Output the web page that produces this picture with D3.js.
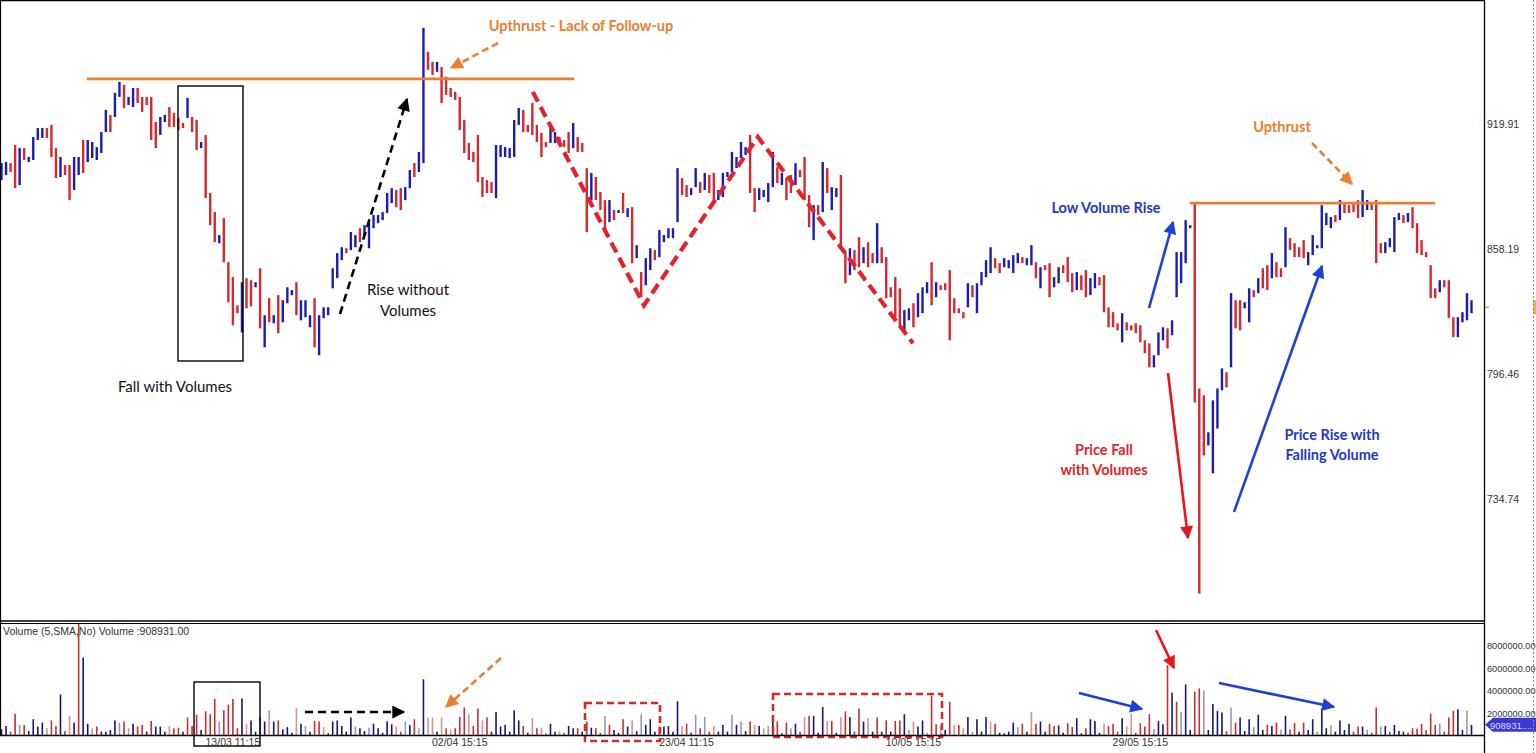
<!DOCTYPE html>
<html><head><meta charset="utf-8">
<script src="https://cdn.jsdelivr.net/npm/d3@7"></script>
<style>html,body{margin:0;padding:0;background:#fff;overflow:hidden}svg{display:block}</style>
</head><body>
<svg id="c" width="1536" height="753"></svg>
<script>
// ---------- DATA ----------
const highs = [900.6,901.1,900.6,909.5,908.0,908.0,903.6,913.5,917.9,917.9,
917.9,919.4,908.0,903.6,899.6,899.6,903.6,903.6,912.0,912.0,
911.0,908.5,915.9,926.9,924.4,935.3,940.7,939.2,933.3,937.7,
937.7,933.3,933.3,933.3,920.9,923.4,924.4,928.3,925.4,922.9,
920.4,932.8,923.4,921.9,911.0,914.5,885.8,876.4,865.0,873.4,
851.6,844.2,830.3,841.7,843.7,842.7,841.7,848.6,825.4,833.8,
825.4,835.3,832.8,839.2,837.8,841.7,832.8,832.8,825.4,833.8,
825.4,829.3,829.3,848.6,856.1,859.0,858.5,866.5,865.0,868.4,
869.9,870.9,874.9,874.9,876.4,885.8,888.2,887.3,888.2,888.7,
897.2,900.6,906.1,967.4,955.6,950.6,950.6,948.1,943.2,937.7,
935.8,933.3,921.9,910.5,906.1,914.5,893.7,892.2,891.2,909.5,
909.5,908.5,908.0,921.9,927.8,926.9,919.4,930.3,919.4,915.5,
911.0,918.4,915.9,913.5,912.0,915.9,920.4,913.5,910.5,898.1,
895.7,893.7,886.3,882.3,882.3,877.4,877.4,885.8,878.3,878.8,
860.0,846.7,853.6,858.5,857.6,867.5,865.0,868.4,868.4,898.1,
893.2,889.7,888.2,898.1,891.2,895.7,894.7,895.7,887.3,895.7,
896.2,906.1,903.6,911.0,908.5,914.5,888.2,888.2,887.3,890.7,
906.1,898.6,895.7,893.2,894.7,900.6,897.2,903.6,884.8,879.8,
879.8,901.1,898.1,888.7,888.2,894.7,856.6,858.5,857.6,864.0,
859.0,861.5,856.1,870.9,859.0,854.1,839.2,844.2,838.7,827.9,
828.8,831.3,836.3,839.2,841.7,851.6,841.7,840.2,841.2,847.7,
833.8,828.8,826.9,841.2,840.2,841.2,846.7,852.6,859.0,853.6,
851.1,853.6,852.6,855.1,856.1,854.1,853.6,860.0,851.6,849.1,
850.1,851.1,844.2,849.1,850.1,854.1,846.2,846.7,845.2,847.7,
843.7,846.2,844.2,845.2,829.3,826.9,821.4,826.4,821.9,820.4,
821.4,820.4,813.0,811.5,805.6,816.9,819.4,818.9,822.9,856.6,
856.6,872.4,869.9,880.8,789.2,785.8,767.5,783.3,789.2,799.1,
797.2,836.3,832.8,832.8,831.8,838.7,837.8,843.7,848.6,850.1,
856.1,851.6,848.6,868.9,863.5,861.0,859.0,862.5,856.6,865.0,
860.0,879.8,875.9,873.9,874.9,882.3,880.8,879.8,880.8,882.3,
887.3,882.3,880.8,882.3,861.0,861.5,863.5,873.9,875.9,874.9,
875.9,878.8,870.9,862.5,856.6,850.1,838.7,842.7,842.7,842.7,
824.4,824.4,826.9,836.3,832.8];
const lows = [892.2,894.7,896.2,888.2,889.7,902.1,901.1,902.1,912.0,913.0,
913.0,903.6,893.2,893.7,894.7,882.3,887.3,894.7,895.7,901.1,
903.1,902.1,905.6,915.9,915.9,923.4,933.3,927.8,929.3,928.3,
930.3,925.9,929.3,912.0,908.0,914.5,920.9,918.4,918.4,916.9,
917.9,922.9,915.9,907.1,908.0,883.3,869.9,861.5,861.0,851.6,
831.8,820.4,826.4,816.9,828.8,829.8,839.2,818.9,809.5,821.9,
821.4,816.5,821.9,831.3,835.3,825.4,822.9,824.4,819.4,809.5,
805.6,823.9,825.4,838.7,843.7,852.6,856.1,857.6,859.0,861.5,
865.0,858.5,868.4,870.9,872.4,875.9,880.8,878.8,877.4,882.3,
888.2,893.7,896.2,900.6,946.7,944.2,945.7,930.3,934.3,933.3,
931.8,916.9,905.6,902.1,901.1,891.2,883.8,885.8,885.8,883.3,
903.6,903.6,903.1,903.6,919.4,915.9,915.9,914.5,911.0,903.6,
908.5,910.5,910.5,909.5,908.5,905.6,908.0,906.1,906.1,866.5,
882.3,882.3,877.4,866.5,871.4,872.4,875.9,875.9,873.9,851.1,
853.6,834.3,840.2,847.7,852.6,854.1,861.5,863.5,863.5,871.4,
884.8,883.8,884.8,888.7,885.8,887.3,885.8,882.3,882.3,883.8,
893.7,896.2,898.1,903.1,904.6,885.8,876.4,882.3,883.8,881.3,
888.7,890.7,889.7,882.3,885.8,889.7,893.7,882.3,868.9,862.5,
874.9,876.4,885.8,877.4,883.8,859.0,841.2,845.2,847.7,849.1,
851.1,849.1,851.1,851.1,851.1,833.8,834.3,824.4,819.4,817.9,
822.9,819.4,824.4,826.4,836.3,830.3,834.3,837.8,837.8,813.0,
826.4,826.4,823.9,829.3,834.3,826.4,840.2,844.2,846.2,848.6,
846.2,849.1,848.6,846.2,851.1,851.1,850.1,850.1,843.7,838.7,
847.7,834.3,839.2,841.2,846.2,841.7,836.8,837.8,837.8,834.3,
835.3,838.7,840.2,826.9,819.4,819.4,817.9,812.0,817.9,817.9,
816.5,812.0,806.6,799.6,799.6,805.6,813.0,809.0,815.5,834.3,
841.2,851.1,868.4,782.3,687.8,756.1,761.0,747.2,769.4,788.3,
789.7,799.6,818.9,817.9,828.8,821.9,834.3,836.3,838.7,837.8,
843.7,844.2,844.2,849.1,857.6,854.1,854.1,853.6,850.1,855.1,
858.5,858.5,869.9,868.4,871.4,872.4,875.9,875.9,876.4,873.4,
873.9,877.4,877.4,851.1,856.1,856.1,859.0,856.6,872.4,870.9,
871.4,868.4,856.1,855.1,854.1,833.8,833.8,836.8,839.2,823.9,
814.5,814.5,821.9,822.9,826.4];
// b = up bar (blue), r = down bar (red)
const barDir = ("bbrrbrbbbb"+"rrrbrrbbrb"+"bbbbrbbrbb"+"rrrrrbbrrr"+"rbrrbrrrbr"+
"rrrbrrbrbr"+"brbbbrbbbr"+"bbbbbbrbbr"+"bbbbbbbrrb"+"brbbrrbrrr"+
"rrrrrrrrrb"+"bbbbbrrrrr"+"rbbrrrbrrr"+"brrrbrbrbr"+"brbbrbbbbb"+
"rrbbrbrrbb"+"bbbbbrrbbb"+"brbrrbrrrb"+"rbrbbrrbrr"+"brrbrrrrrb"+
"brbbbrbrrr"+"rrrbrbbbbr"+"rbbbbrbbrb"+"rrbbrrrbrr"+"bbrrrrrbrr"+
"rrrrbbbrbb"+"bbbrrrbbbb"+"rbrrbbrbrr"+"brrbrrrrbb"+"bbbbrbrrrr"+
"bbrrrbbbbr"+"brrrrrrbrr"+"rbbbb").split("");
// volume in millions
const volumes = [0.5,0.8,0.3,1.9,0.9,0.9,0.35,1.4,0.75,1.1,
0.6,1.3,0.8,3.6,0.35,1.7,1.1,10.0,6.9,1.0,
0.6,0.75,0.3,0.3,0.45,1.3,1.1,1.2,0.6,1.0,
0.75,0.9,0.3,1.25,0.75,0.75,0.3,0.8,0.6,0.65,
0.3,1.55,0.8,1.8,0.45,2.1,1.85,3.2,1.2,2.2,
2.7,3.2,0.6,3.25,1.0,1.3,0.3,1.6,1.2,2.15,
1.2,1.3,0.5,0.7,0.2,2.4,1.0,0.8,0.3,1.25,
1.2,0.7,0.15,1.2,1.3,0.8,0.3,1.55,0.75,0.6,
0.35,0.65,1.0,0.6,0.2,1.2,0.95,0.75,0.3,1.2,
0.9,1.4,0.65,4.95,1.55,1.55,0.3,1.55,0.6,0.5,
0.6,1.6,2.45,1.85,0.8,2.35,1.3,1.55,0.3,2.05,
0.75,0.9,0.3,2.2,1.3,0.8,0.2,1.5,0.6,0.65,
0.15,1.0,0.3,0.35,0.2,0.8,0.6,0.6,0.3,1.2,
0.65,0.6,0.2,1.7,0.9,0.45,0.2,1.4,0.75,1.3,
0.35,1.85,0.9,1.4,0.3,0.75,0.75,0.8,0.3,3.0,
0.8,1.0,0.2,1.8,0.6,1.6,0.3,0.8,0.3,0.9,
0.3,1.8,0.9,1.2,0.35,1.2,0.9,0.8,0.6,0.8,
1.4,1.2,0.15,1.1,0.6,1.0,0.3,1.6,1.7,1.7,
0.2,2.5,1.25,1.25,0.2,1.6,2.1,1.6,0.3,2.35,
1.2,1.5,0.3,1.55,0.3,1.3,0.3,1.25,1.3,1.85,
0.45,1.2,0.75,1.3,0.2,3.5,0.95,0.8,0.45,2.95,
0.9,0.9,0.6,1.6,0.3,1.4,0.3,1.6,1.2,1.0,
0.2,0.15,0.3,1.1,0.7,1.0,0.3,2.05,1.0,1.2,
0.3,1.0,0.8,0.85,0.2,1.05,0.7,1.5,0.15,0.6,
1.4,1.25,0.2,1.05,0.8,1.0,0.3,1.5,0.75,1.9,
0.2,1.05,0.75,1.85,0.55,1.25,0.95,6.2,3.75,2.95,
2.05,4.5,0.45,3.85,4.15,3.95,0.45,2.75,2.15,2.0,
0.35,2.45,1.1,1.55,0.35,1.4,0.7,1.8,0.45,0.9,
0.8,1.1,0.5,1.7,0.5,1.05,0.3,1.1,0.45,1.4,
0.3,2.35,0.6,0.9,0.3,1.3,0.45,1.0,0.3,0.75,
0.75,0.45,0.2,2.45,0.75,0.8,0.3,0.9,0.35,0.3,
0.2,0.6,0.55,1.0,0.45,1.9,0.9,1.0,0.3,1.55,
2.15,2.3,0.45,2.15,0.9];
// b blue, r red, p light red, g light blue-grey
const volColor = ("bbrrgrbbbb"+"prrbrpbrbb"+"prbbbbgrpb"+"rrbrbbbprr"+"brrrbrrrgr"+
"rrrbpbbrbp"+"brbbbpbgbr"+"rpbbbbbbgb"+"bgbbbbbprg"+"brpbppbprp"+
"rrrprrprbb"+"bbbbbrbprp"+"rbbprbbrbr"+"brrgrbbrbp"+"bgbbbrbbbb"+
"prbgrgrpbb"+"bgbgbrpbpg"+"brbrgbrprb"+"bbprbprbrr"+"bpbrbrbrrb"+
"gpbbgrrpbr"+"prpbgbbbpr"+"bbbbgrbprb"+"brrbbrrbbr"+"bbbprrrbpp"+
"rrrrgbbrbr"+"gbbrrgbbbb"+"rgrbbbgbbr"+"brgbrrbrbb"+"gbbgbbbbrr"+
"bgrrgbrbbb"+"rrrrrrrgrr"+"rbbgb").split("");
const priceTicks = [919.91, 858.19, 796.46, 734.74];
const volTicks = [8000000, 6000000, 4000000, 2000000];
const dateLabels = ["13/03 11:15","02/04 15:15","23/04 11:15","10/05 15:15","29/05 15:15"];
const dateBars = [51, 101, 151, 201, 251];
const lastVolume = 908931.00;
const lastClose = 829.3;
// resistance levels [startBar, endBar, price]
const resistance = [[18.8, 126.2, 942.2],[261.9, 316.0, 880.8]];
// red dashed zig-zag (bar index, price)
const zigzag = [[117.1,935.8],[141.6,830.3],[166.7,913.5],[200.9,811.5]];

// ---------- LAYOUT ----------
const W = 1536, H = 753, axisX = 1484;
const svg = d3.select("#c");
const x = d3.scaleLinear().domain([0, highs.length - 1]).range([1.5, 1471.5]);
const y = d3.scaleLinear().domain([734.74, 919.91]).range([498.6, 124]);
const yv = d3.scaleLinear().domain([0, 8000000]).range([735, 645]);
const C = {r:"#d22a2e", b:"#1c1cb0"};
const VC = {r:"#c42f32", b:"#16166e", p:"#d29494", g:"#9696bc"};
const axisFont = "'Liberation Sans', Arial, sans-serif";
const annFont = "Lato, 'Open Sans', sans-serif";

svg.append("rect").attr("width",W).attr("height",H).attr("fill","#fff");

// markers
const defs = svg.append("defs");
function marker(id, color, w, h){
  defs.append("marker").attr("id",id).attr("markerUnits","userSpaceOnUse")
    .attr("markerWidth",w).attr("markerHeight",h).attr("viewBox","0 0 10 10")
    .attr("refX",9).attr("refY",5).attr("orient","auto")
    .append("path").attr("d","M0,0 L10,5 L0,10 z").attr("fill",color);
}
marker("mk","#000",15,13);
marker("mo","#ed7d31",15,13);
marker("mb","#1f3fd6",16,13);
marker("mr","#e8161c",16,13);

// clip for panels
defs.append("clipPath").attr("id","pc").append("rect").attr("x",0).attr("y",1).attr("width",axisX).attr("height",620);
defs.append("clipPath").attr("id","vc").append("rect").attr("x",0).attr("y",623).attr("width",axisX).attr("height",112);

// ---------- PRICE PANEL ----------
const pg = svg.append("g").attr("clip-path","url(#pc)");
pg.selectAll("rect.bar").data(highs).enter().append("rect")
  .attr("x",(d,i)=>x(i)-1.2).attr("width",2.4)
  .attr("y",(d)=>y(d)).attr("height",(d,i)=>Math.max(1.5, y(lows[i]) - y(d)))
  .attr("fill",(d,i)=>C[barDir[i]]);

// resistance lines
pg.selectAll("line.res").data(resistance).enter().append("line")
  .attr("x1",d=>x(d[0])).attr("x2",d=>x(d[1])).attr("y1",d=>y(d[2])).attr("y2",d=>y(d[2]))
  .attr("stroke","#ed7d31").attr("stroke-width",2.6);

// zigzag
pg.append("path").datum(zigzag)
  .attr("d",d3.line().x(d=>x(d[0])).y(d=>y(d[1])))
  .attr("fill","none").attr("stroke","#e8202a").attr("stroke-width",4.2)
  .attr("stroke-dasharray","11,6");

// annotations
pg.append("rect").attr("x",178).attr("y",86).attr("width",65).attr("height",275)
  .attr("fill","none").attr("stroke","#000").attr("stroke-width",1.4);

function arrow(g,x1,y1,x2,y2,color,mk,w,dash){
  const l = g.append("line").attr("x1",x1).attr("y1",y1).attr("x2",x2).attr("y2",y2)
    .attr("stroke",color).attr("stroke-width",w).attr("marker-end","url(#"+mk+")");
  if(dash) l.attr("stroke-dasharray",dash);
}
function txt(g,s,xx,yy,color,size,weight){
  g.append("text").attr("x",xx).attr("y",yy).attr("text-anchor","middle")
    .attr("font-family",annFont).attr("font-size",size).attr("font-weight",weight)
    .attr("fill",color).text(s);
}
arrow(pg,340,314,407,99,"#000","mk",2.6,"8,5");
arrow(pg,498,43,451,68,"#ed7d31","mo",2.6,"7,4");
arrow(pg,1149,308,1173,222,"#1f3fd6","mb",2.6,null);
arrow(pg,1168,373,1188,538,"#e8161c","mr",2.6,null);
arrow(pg,1312,143,1352,184,"#ed7d31","mo",2.6,"7,4");
arrow(pg,1234,512,1322,266,"#1f3fd6","mb",2.6,null);

txt(pg,"Fall with Volumes",175,392,"#111",15,"normal");
txt(pg,"Rise without",408,295,"#111",15,"normal");
txt(pg,"Volumes",408,316,"#111",15,"normal");
txt(pg,"Upthrust - Lack of Follow-up",581,31,"#ed7d31",14.5,"bold");
txt(pg,"Low Volume Rise",1106,213,"#2038c8",14.5,"bold");
txt(pg,"Price Fall",1104,455,"#e0262a",14.5,"bold");
txt(pg,"with Volumes",1104,475,"#e0262a",14.5,"bold");
txt(pg,"Upthrust",1282,132,"#ed7d31",14.5,"bold");
txt(pg,"Price Rise with",1332,440,"#2038c8",14.5,"bold");
txt(pg,"Falling Volume",1332,460,"#2038c8",14.5,"bold");

// price axis labels
svg.selectAll("text.pt").data(priceTicks).enter().append("text")
  .attr("x",axisX+3).attr("y",d=>y(d)+4).attr("font-family",axisFont).attr("font-size",10.5)
  .attr("fill","#333").text(d=>d.toFixed(2));
svg.append("line").attr("x1",axisX+1).attr("x2",axisX+5).attr("y1",y(lastClose)).attr("y2",y(lastClose))
  .attr("stroke","#f0a040").attr("stroke-width",1.5);
svg.append("rect").attr("x",W-3).attr("y",y(lastClose)-7).attr("width",3).attr("height",14).attr("fill","#f0b050");

// ---------- VOLUME PANEL ----------
const vg = svg.append("g").attr("clip-path","url(#vc)");
vg.selectAll("line.vol").data(volumes).enter().append("line")
  .attr("x1",(d,i)=>x(i)).attr("x2",(d,i)=>x(i))
  .attr("y1",yv(0)).attr("y2",d=>yv(d*1e6))
  .attr("stroke",(d,i)=>VC[volColor[i]]).attr("stroke-width",1.6);

const vg2 = svg.append("g");
vg2.append("rect").attr("x",194).attr("y",682).attr("width",66).attr("height",64)
  .attr("fill","none").attr("stroke","#000").attr("stroke-width",1.4);
vg2.append("rect").attr("x",585).attr("y",703).attr("width",75).attr("height",38)
  .attr("fill","none").attr("stroke","#d42a2a").attr("stroke-width",2.6).attr("stroke-dasharray","7,4");
vg2.append("rect").attr("x",773).attr("y",694).attr("width",169).attr("height",43)
  .attr("fill","none").attr("stroke","#d42a2a").attr("stroke-width",2.6).attr("stroke-dasharray","7,4");
arrow(vg2,305,712,404,712,"#000","mk",2.6,"8,5");
arrow(vg2,501,658,446,707,"#ed7d31","mo",2.6,"7,4");
arrow(vg2,1156,630,1174,668,"#e8161c","mr",2.6,null);
arrow(vg2,1079,693,1142,709,"#1f3fd6","mb",2.6,null);
arrow(vg2,1219,683,1334,707,"#1f3fd6","mb",2.6,null);

svg.append("text").attr("x",3).attr("y",635).attr("font-family",axisFont).attr("font-size",10.5)
  .attr("fill","#333").text("Volume (5,SMA,No) Volume :" + lastVolume.toFixed(2));

svg.selectAll("text.vt").data(volTicks).enter().append("text")
  .attr("x",axisX+3).attr("y",d=>yv(d)+4).attr("font-family",axisFont).attr("font-size",9.2)
  .attr("fill","#333").text(d=>d.toFixed(2));

// current volume tag
const ty = yv(lastVolume);
svg.append("path").attr("d",`M${axisX+1},${ty} L${axisX+9},${ty-7} L${W},${ty-7} L${W},${ty+7} L${axisX+9},${ty+7} Z`)
  .attr("fill","#3a3ad2");
svg.append("text").attr("x",axisX+6).attr("y",ty+4).attr("font-family",axisFont).attr("font-size",9.5)
  .attr("fill","#dcdcff").text(String(Math.round(lastVolume)).slice(0,6)+"....");

// date labels
svg.selectAll("text.dt").data(dateLabels).enter().append("text")
  .attr("x",(d,i)=>x(dateBars[i])).attr("y",746).attr("text-anchor","middle")
  .attr("font-family",axisFont).attr("font-size",10.5).attr("fill","#333").text(d=>d);

// ---------- FRAMES ----------
const fr = svg.append("g").attr("stroke","#000");
fr.append("line").attr("x1",0).attr("x2",axisX).attr("y1",0.5).attr("y2",0.5).attr("stroke-width",1.5);
fr.append("line").attr("x1",0.5).attr("x2",0.5).attr("y1",0).attr("y2",735).attr("stroke-width",1.2);
fr.append("line").attr("x1",axisX+0.5).attr("x2",axisX+0.5).attr("y1",0).attr("y2",H).attr("stroke-width",1.3);
fr.append("line").attr("x1",0).attr("x2",axisX).attr("y1",621).attr("y2",621).attr("stroke-width",1.5);
fr.append("line").attr("x1",0).attr("x2",axisX).attr("y1",623.5).attr("y2",623.5).attr("stroke-width",1.2);
fr.append("line").attr("x1",0).attr("x2",axisX).attr("y1",735.5).attr("y2",735.5).attr("stroke-width",1.3);
svg.append("line").attr("x1",W-2.5).attr("x2",W-2.5).attr("y1",0).attr("y2",H)
  .attr("stroke","#888").attr("stroke-width",1).attr("stroke-dasharray","2,2");
</script>
</body></html>
